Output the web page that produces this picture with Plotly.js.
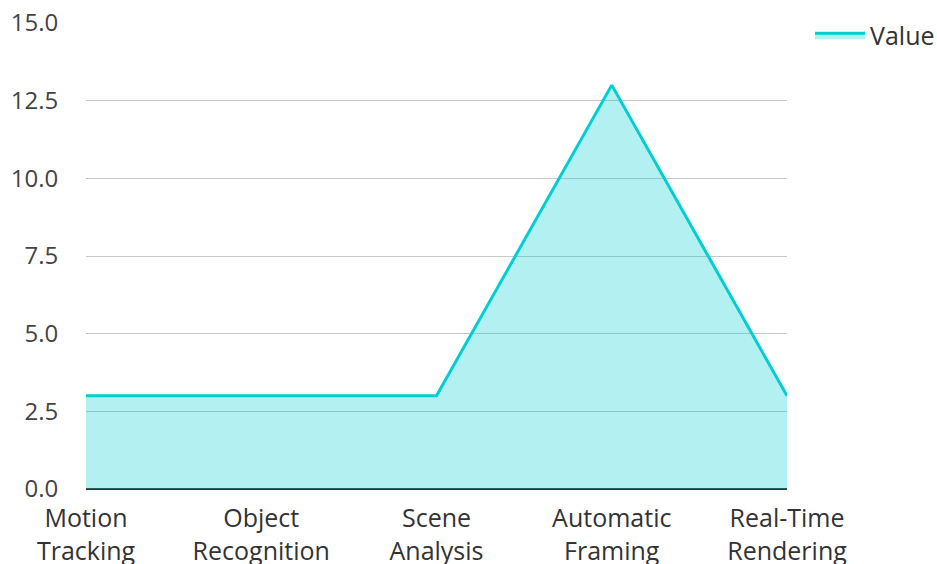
<!DOCTYPE html>
<html><head><meta charset="utf-8">
<script src="https://cdn.plot.ly/plotly-3.0.1.min.js"></script>
<style>html,body{margin:0;padding:0;background:#fff}</style>
</head><body>
<div id="chart" style="width:937px;height:564px"></div>
<script>
const categories = ["Motion<br>Tracking", "Object<br>Recognition", "Scene<br>Analysis", "Automatic<br>Framing", "Real-Time<br>Rendering"];
const values = [3, 3, 3, 13, 3];
const seriesName = "Value";

Plotly.newPlot("chart", [{
  type: "scatter",
  mode: "lines",
  x: categories,
  y: values,
  name: seriesName,
  fill: "tozeroy",
  fillcolor: "rgba(0,206,209,0.3)",
  line: {color: "rgb(0,206,209)", width: 3}
}], {
  width: 937, height: 564,
  margin: {l: 86, r: 150, t: 23, b: 75},
  paper_bgcolor: "#fff", plot_bgcolor: "#fff",
  font: {family: "Open Sans", size: 24, color: "#333"},
  showlegend: true,
  legend: {xref: "container", yref: "container", x: 0.8645, y: 0.978, xanchor: "left", yanchor: "top",
           itemwidth: 50, font: {size: 25, color: "#333"}},
  xaxis: {
    type: "category", range: [0, 4], showgrid: false,
    ticks: "outside", ticklen: 7, tickcolor: "rgba(0,0,0,0)",
    tickfont: {size: 25, color: "#333"}, automargin: false
  },
  yaxis: {
    range: [0, 15], dtick: 2.5, tickformat: ".1f", gridcolor: "#c8c8c8", gridwidth: 1,
    zeroline: true, zerolinecolor: "#333", zerolinewidth: 2,
    ticks: "outside", ticklen: 22, tickcolor: "rgba(0,0,0,0)",
    tickfont: {size: 24, color: "#444"}, automargin: false
  }
}, {displayModeBar: false});
</script>
</body></html>
